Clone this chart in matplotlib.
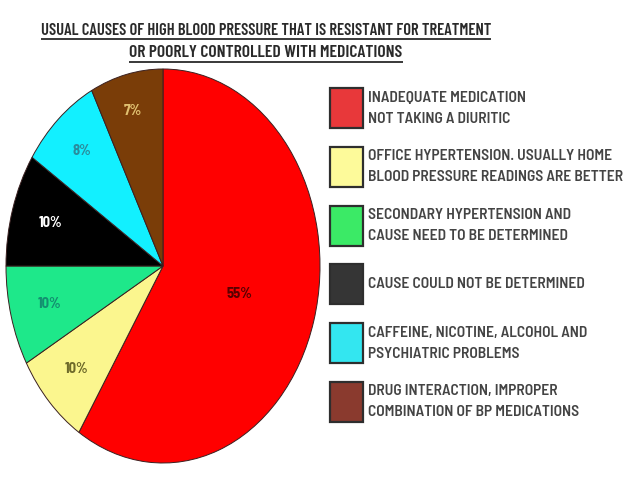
import matplotlib
matplotlib.use("Agg")
import matplotlib.pyplot as plt
from matplotlib.patches import Rectangle
import numpy as np

W, H = 638, 478

title_lines = ["USUAL CAUSES OF HIGH BLOOD PRESSURE THAT IS RESISTANT FOR TREATMENT",
               "OR POORLY CONTROLLED WITH MEDICATIONS"]

# slice shares as they are drawn (the printed labels are what the chart says)
shares = [59.0, 7.8, 8.2, 9.3, 8.2, 7.5]
pct_labels = ["55%", "10%", "10%", "10%", "8%", "7%"]
slice_colors = ["#ff0000", "#fbf68e", "#1ee88a", "#000000", "#12f0ff", "#7a3d08"]
pct_colors = ["#5a0000", "#6e6a2a", "#138f70", "#ffffff", "#2a8c9c", "#e0c070"]
label_dist = [0.51, 0.76, 0.75, 0.75, 0.78, 0.81]

legend_text = [
    ["INADEQUATE MEDICATION", "NOT TAKING A DIURITIC"],
    ["OFFICE HYPERTENSION. USUALLY HOME", "BLOOD PRESSURE READINGS ARE BETTER"],
    ["SECONDARY HYPERTENSION AND", "CAUSE NEED TO BE DETERMINED"],
    ["CAUSE COULD NOT BE DETERMINED"],
    ["CAFFEINE, NICOTINE, ALCOHOL AND", "PSYCHIATRIC PROBLEMS"],
    ["DRUG INTERACTION, IMPROPER", "COMBINATION OF BP MEDICATIONS"],
]
legend_colors = ["#e8383a", "#fdfa9a", "#3bea66", "#353535", "#33e6f0", "#8a3a2e"]

TITLE_FONT = ["Barlow Condensed", "DejaVu Sans"]
LEG_FONT = ["Barlow Semi Condensed", "DejaVu Sans"]

fig = plt.figure(figsize=(W / 100, H / 100), dpi=100)
fig.patch.set_facecolor("white")
renderer = fig.canvas.get_renderer()

# pie (the picture is stretched vertically, so the axes are not square)
cx, cy, rx, ry = 163, 266, 157, 197
ax = fig.add_axes([(cx - rx) / W, (H - cy - ry) / H, 2 * rx / W, 2 * ry / H])
wedges, _ = ax.pie(shares, colors=slice_colors, startangle=90, counterclock=False,
                   radius=1, wedgeprops=dict(edgecolor="#3a2020", linewidth=0.7))
ax.set_xlim(-1, 1); ax.set_ylim(-1, 1); ax.set_aspect("auto"); ax.axis("off")
for w, lab, col, d in zip(wedges, pct_labels, pct_colors, label_dist):
    th = np.deg2rad((w.theta1 + w.theta2) / 2)
    ax.text(d * np.cos(th), d * np.sin(th), lab, ha="center", va="center",
            fontsize=10.5, fontweight="bold", color=col, family=LEG_FONT)

# overlay in pixel coords for title and legend
ov = fig.add_axes([0, 0, 1, 1], zorder=3)
ov.set_xlim(0, W); ov.set_ylim(H, 0); ov.axis("off")


def fit(t, target):
    bb = t.get_window_extent(renderer)
    t.set_fontsize(t.get_fontsize() * target / bb.width)
    return t.get_window_extent(renderer)


# title, centred and underlined
title_y = [30, 52]
title_w = [452, 273]
ul_y = [38.5, 61.5]
for line, y, tw, uy in zip(title_lines, title_y, title_w, ul_y):
    t = ov.text(266, y, line, ha="center", va="center", fontsize=12,
                fontweight=600, color="#2a2a2a", family=TITLE_FONT)
    bb = fit(t, tw)
    x0 = bb.x0 * W / fig.bbox.width
    x1 = bb.x1 * W / fig.bbox.width
    ov.plot([x0, x1], [uy, uy], color="#2a2a2a", lw=1.3, solid_capstyle="butt")

# legend
box_x, box_w, box_h = 330, 33, 40
top0, step = 88, 58.8
ref = ov.text(0, -100, legend_text[1][1], fontsize=10, fontweight=600, family=LEG_FONT)
fit(ref, 254)
leg_fs = ref.get_fontsize()
ref.remove()
for i, (lines, col) in enumerate(zip(legend_text, legend_colors)):
    top = top0 + i * step
    ov.add_patch(Rectangle((box_x, top), box_w, box_h, facecolor=col,
                           edgecolor="#2e2e2e", lw=1.6))
    mid = top + box_h / 2
    offs = [0] if len(lines) == 1 else [-10.5, 10.5]
    for line, o in zip(lines, offs):
        ov.text(368, mid + o, line, ha="left", va="center", fontsize=leg_fs,
                fontweight=600, color="#444444", family=LEG_FONT)

fig.savefig("out.png", dpi=100, facecolor="white")
